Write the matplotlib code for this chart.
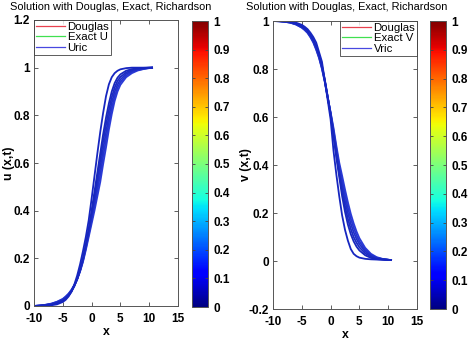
import matplotlib
matplotlib.use("Agg")
import matplotlib.pyplot as plt
from matplotlib.lines import Line2D
import matplotlib as mpl

plt.rcParams['font.family'] = ['Liberation Sans', 'DejaVu Sans']

# ---- data ----
x_vals = [-10, -9, -8, -7, -6, -5, -4.5, -4, -3.5, -3, -2.5, -2, -1.5, -1, -0.5, 0,
          0.5, 1, 1.5, 2, 2.5, 3, 3.5, 4, 4.5, 5, 6, 7, 8, 9, 10, 10.5]

u_A  = [0.0, 0.0, 0.001, 0.003, 0.007, 0.017, 0.026, 0.04, 0.06, 0.09, 0.128, 0.175, 0.23, 0.29, 0.36, 0.45,
        0.545, 0.64, 0.73, 0.81, 0.88, 0.93, 0.96, 0.977, 0.987, 0.993, 0.998, 1.0, 1.0, 1.0, 1.0, 1.0]
u_B1 = [0.0, 0.001, 0.003, 0.006, 0.012, 0.022, 0.031, 0.043, 0.06, 0.083, 0.113, 0.152, 0.2, 0.26, 0.325, 0.4,
        0.48, 0.56, 0.64, 0.72, 0.79, 0.85, 0.9, 0.935, 0.958, 0.972, 0.987, 0.994, 0.997, 0.999, 1.0, 1.0]
u_B2 = [0.0, 0.001, 0.004, 0.007, 0.014, 0.024, 0.033, 0.045, 0.062, 0.084, 0.113, 0.15, 0.196, 0.254, 0.316, 0.386,
        0.46, 0.535, 0.61, 0.69, 0.76, 0.822, 0.876, 0.916, 0.944, 0.961, 0.98, 0.99, 0.995, 0.998, 1.0, 1.0]
u_B3 = [0.0, 0.002, 0.004, 0.008, 0.015, 0.026, 0.036, 0.048, 0.064, 0.086, 0.113, 0.149, 0.193, 0.248, 0.308, 0.373,
        0.44, 0.51, 0.58, 0.658, 0.728, 0.795, 0.853, 0.898, 0.929, 0.95, 0.974, 0.986, 0.993, 0.997, 0.999, 1.0]
u_B4 = [0.0, 0.002, 0.005, 0.009, 0.017, 0.028, 0.038, 0.05, 0.066, 0.087, 0.113, 0.147, 0.189, 0.242, 0.3, 0.359,
        0.42, 0.485, 0.55, 0.627, 0.697, 0.768, 0.829, 0.879, 0.915, 0.939, 0.967, 0.982, 0.99, 0.995, 0.999, 1.0]
u_B5 = [0.0, 0.002, 0.005, 0.01, 0.018, 0.03, 0.04, 0.052, 0.068, 0.088, 0.113, 0.145, 0.185, 0.235, 0.29, 0.345,
        0.4, 0.46, 0.52, 0.595, 0.665, 0.74, 0.805, 0.86, 0.9, 0.928, 0.96, 0.977, 0.988, 0.994, 0.998, 1.0]

v_A  = [1.0, 1.0, 0.999, 0.997, 0.993, 0.984, 0.976, 0.966, 0.951, 0.933, 0.91, 0.87, 0.83, 0.75, 0.67, 0.59,
        0.46, 0.36, 0.27, 0.19, 0.13, 0.085, 0.05, 0.03, 0.02, 0.014, 0.009, 0.007, 0.006, 0.005, 0.004, 0.004]
v_B1 = [1.0, 1.0, 0.998, 0.995, 0.989, 0.979, 0.97, 0.958, 0.942, 0.922, 0.895, 0.86, 0.815, 0.755, 0.685, 0.61,
        0.52, 0.43, 0.35, 0.27, 0.205, 0.152, 0.112, 0.082, 0.06, 0.044, 0.024, 0.013, 0.008, 0.006, 0.005, 0.004]
v_B2 = [1.0, 1.0, 0.998, 0.995, 0.988, 0.977, 0.968, 0.956, 0.94, 0.919, 0.891, 0.856, 0.811, 0.752, 0.683, 0.612,
        0.528, 0.442, 0.365, 0.292, 0.228, 0.176, 0.134, 0.1, 0.076, 0.057, 0.032, 0.018, 0.01, 0.007, 0.005, 0.004]
v_B3 = [1.0, 0.999, 0.997, 0.994, 0.987, 0.975, 0.966, 0.954, 0.937, 0.916, 0.887, 0.852, 0.807, 0.75, 0.682, 0.615,
        0.537, 0.455, 0.38, 0.313, 0.252, 0.2, 0.156, 0.12, 0.092, 0.07, 0.04, 0.022, 0.012, 0.008, 0.005, 0.004]
v_B4 = [1.0, 0.999, 0.997, 0.993, 0.986, 0.973, 0.964, 0.952, 0.934, 0.913, 0.883, 0.848, 0.803, 0.747, 0.681, 0.617,
        0.546, 0.468, 0.396, 0.335, 0.276, 0.222, 0.177, 0.139, 0.107, 0.082, 0.047, 0.026, 0.014, 0.008, 0.005, 0.004]
v_B5 = [1.0, 0.999, 0.997, 0.993, 0.985, 0.972, 0.962, 0.95, 0.932, 0.91, 0.88, 0.845, 0.8, 0.745, 0.68, 0.62,
        0.555, 0.48, 0.41, 0.355, 0.298, 0.245, 0.197, 0.157, 0.123, 0.095, 0.055, 0.03, 0.016, 0.009, 0.005, 0.004]

u_curves = [u_B5, u_B4, u_B3, u_B2, u_B1, u_A]
v_curves = [v_B5, v_B4, v_B3, v_B2, v_B1, v_A]
curve_colors = ['#2c3cd8', '#2636d0', '#2030c9', '#1c2cc3', '#1828bd', '#1626c0']

xticks = [-10, -5, 0, 5, 10, 15]
u_yticks = [0, 0.2, 0.4, 0.6, 0.8, 1, 1.2]
v_yticks = [-0.2, 0, 0.2, 0.4, 0.6, 0.8, 1]
cb_ticks = [0, 0.1, 0.2, 0.3, 0.4, 0.5, 0.6, 0.7, 0.8, 0.9, 1]

title_text = "Solution with Douglas, Exact, Richardson"
legend_u = ["Douglas", "Exact U", "Uric"]
legend_v = ["Douglas", "Exact V", "Vric"]
legend_colors = ['#e8404f', '#40e050', '#4848e0']

W, H = 474, 342
fig = plt.figure(figsize=(W / 100, H / 100), dpi=100)

def fr(x0, y0, x1, y1):
    return [x0 / W, 1 - y1 / H, (x1 - x0) / W, (y1 - y0) / H]

def fmt(v):
    return f"{v:g}"

def style_axes(ax):
    ax.tick_params(direction='in', length=3, width=0.6, top=True, right=True,
                   labelsize=8.5, colors='#444444', labelcolor='black')
    ax.tick_params(axis='x', pad=4.8)
    ax.tick_params(axis='y', pad=3)
    for sp in ax.spines.values():
        sp.set_color('#555555')
        sp.set_linewidth(0.7)
    for lab in ax.get_xticklabels() + ax.get_yticklabels():
        lab.set_fontweight('bold')

def colorbar(rect):
    cax = fig.add_axes(rect)
    norm = mpl.colors.Normalize(0, 1)
    cb = mpl.colorbar.ColorbarBase(cax, cmap=plt.get_cmap('jet'), norm=norm, ticks=cb_ticks)
    cb.ax.set_yticklabels([fmt(t) for t in cb_ticks])
    cax.tick_params(direction='in', length=2, width=0.6, labelsize=8.5, pad=4,
                    left=True, right=True, colors='#444444', labelcolor='black')
    for lab in cax.get_yticklabels():
        lab.set_fontweight('bold')
    cb.outline.set_edgecolor('#555555')
    cb.outline.set_linewidth(0.7)

def panel(rect, curves, yticks, ylim, ylabel, labels, loc, ylab_x):
    ax = fig.add_axes(rect)
    for c, col in zip(curves, curve_colors):
        ax.plot(x_vals, c, color=col, lw=1.3, solid_joinstyle='round')
    ax.set_xlim(-10, 15)
    ax.set_ylim(*ylim)
    ax.set_xticks(xticks)
    ax.set_xticklabels([fmt(t) for t in xticks])
    ax.set_yticks(yticks)
    ax.set_yticklabels([fmt(t) for t in yticks])
    ax.set_xlabel("x", fontsize=8.8, fontweight='bold', labelpad=1)
    ax.set_ylabel(ylabel, fontsize=8.8, fontweight='bold')
    ax.yaxis.set_label_coords(ylab_x, 0.5)
    style_axes(ax)
    handles = [Line2D([0], [0], color=c, lw=0.9) for c in legend_colors]
    leg = ax.legend(handles, labels, loc=loc, fontsize=8.2, frameon=True, fancybox=False,
                    borderpad=0.15, labelspacing=0.05, handlelength=2.6, handletextpad=0.2,
                    borderaxespad=0.0)
    leg.get_frame().set_edgecolor('#333333')
    leg.get_frame().set_linewidth(0.7)
    return ax

panel(fr(34, 20, 178, 306), u_curves, u_yticks, (0, 1.2), "u (x,t)", legend_u, 'upper left', -0.132)
colorbar(fr(192, 21, 208, 307))
fig.text(111 / W, 1 - 7 / H, title_text, ha='center', va='center', fontsize=7.9)

panel(fr(273, 21, 417, 309), v_curves, v_yticks, (-0.2, 1), "v (x,t)", legend_v, 'upper right', -0.146)
colorbar(fr(430, 21, 446, 309))
fig.text(347 / W, 1 - 7 / H, title_text, ha='center', va='center', fontsize=7.9)

fig.savefig("out.png", dpi=100)
